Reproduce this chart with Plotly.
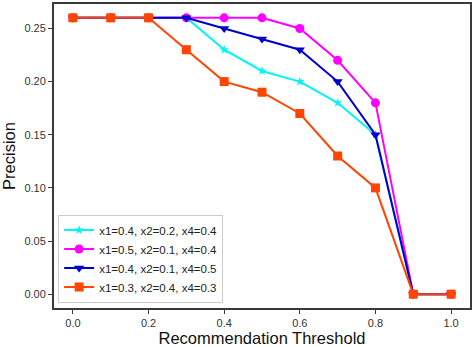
import plotly.graph_objects as go

thresholds = [0.0, 0.1, 0.2, 0.3, 0.4, 0.5, 0.6, 0.7, 0.8, 0.9, 1.0]
s_cyan = [0.26, 0.26, 0.26, 0.26, 0.23, 0.21, 0.20, 0.18, 0.15, 0.0, 0.0]
s_magenta = [0.26, 0.26, 0.26, 0.26, 0.26, 0.26, 0.25, 0.22, 0.18, 0.0, 0.0]
s_blue = [0.26, 0.26, 0.26, 0.26, 0.25, 0.24, 0.23, 0.20, 0.15, 0.0, 0.0]
s_orange = [0.26, 0.26, 0.26, 0.23, 0.20, 0.19, 0.17, 0.13, 0.10, 0.0, 0.0]
names = ["x1=0.4, x2=0.2, x4=0.4", "x1=0.5, x2=0.1, x4=0.4",
         "x1=0.4, x2=0.1, x4=0.5", "x1=0.3, x2=0.4, x4=0.3"]
x_ticks = [0.0, 0.2, 0.4, 0.6, 0.8, 1.0]
y_ticks = [0.00, 0.05, 0.10, 0.15, 0.20, 0.25]

series = [
    (s_cyan, names[0], "#00f5f5", "star", 7),
    (s_magenta, names[1], "#ff00ff", "circle", 9),
    (s_blue, names[2], "#0000cd", "triangle-down", 9),
    (s_orange, names[3], "#ff4500", "square", 9),
]

fig = go.Figure()
for vals, name, color, sym, size in series:
    fig.add_trace(go.Scatter(
        x=thresholds, y=vals, name=name, mode="lines+markers",
        line=dict(color=color, width=2),
        marker=dict(symbol=sym, size=size, color=color),
    ))

axis_common = dict(showline=True, linecolor="#3a3a3a", linewidth=2, mirror=True,
                   ticks="outside", ticklen=4, tickcolor="#3a3a3a",
                   showgrid=False, zeroline=False,
                   tickfont=dict(size=11, color="#333333"))
fig.update_xaxes(range=[-0.05, 1.05], tickvals=x_ticks,
                 ticktext=[f"{v:.1f}" for v in x_ticks],
                 title=dict(text="Recommendation Threshold", font=dict(size=16.5, color="#111111"), standoff=4),
                 **axis_common)
fig.update_yaxes(range=[-0.013, 0.273], tickvals=y_ticks,
                 ticktext=[f"{v:.2f}" for v in y_ticks],
                 title=dict(text="Precision", font=dict(size=16.5, color="#111111"), standoff=6),
                 **axis_common)
fig.update_layout(
    width=474, height=347,
    margin=dict(l=54, r=2, t=2, b=35),
    paper_bgcolor="white", plot_bgcolor="white",
    font=dict(family="Liberation Sans, Arial, sans-serif"),
    legend=dict(x=0.01, y=0.018, xanchor="left", yanchor="bottom",
                bgcolor="white", bordercolor="#cccccc", borderwidth=1,
                font=dict(size=11.5, color="#222222"),
                tracegroupgap=0, itemwidth=30),
    showlegend=True,
)
fig.write_html("out.html")
